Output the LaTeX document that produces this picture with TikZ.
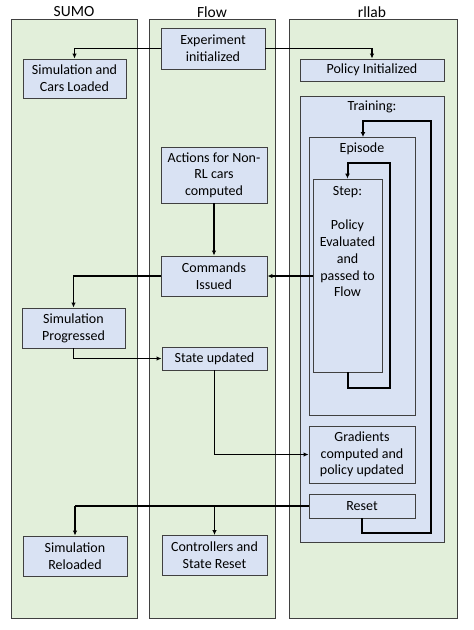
\documentclass[tikz,border=0pt]{standalone}
\usepackage{fontspec}
\setmainfont{Carlito}
\usetikzlibrary{arrows.meta}
\definecolor{lanefill}{HTML}{E2EFDA}
\definecolor{boxfill}{HTML}{D9E2F3}
\definecolor{edge}{HTML}{404040}
\tikzset{
  lane/.style={draw=edge, line width=0.8pt, fill=lanefill},
  box/.style={draw=edge, line width=0.9pt, fill=boxfill, inner sep=0pt, align=center,
    font=\fontsize{14}{16.7}\selectfont},
  frame/.style={draw=edge, line width=0.9pt, fill=boxfill},
  lbl/.style={font=\fontsize{14}{16.7}\selectfont, align=center, inner sep=0pt},
  title/.style={font=\fontsize{15.5}{18}\selectfont, inner sep=0pt},
  arr/.style={draw=black, line width=1.4pt, -{Latex[length=5pt,width=4.5pt]}},
  con/.style={draw=black, line width=1.4pt},
  loop/.style={draw=black, line width=2pt, -{Latex[length=5pt,width=5pt]}}
}
\begin{document}
\begin{tikzpicture}[x=1pt,y=-1pt]
\useasboundingbox[fill=white] (0,0) rectangle (474,630);
% lanes
\path[lane] (11,19) rectangle (137,618);
\path[lane] (149,19) rectangle (275,618);
\path[lane] (289,19) rectangle (457,618);
\node[title] (tsumo) at (74,12) {SUMO};
\node[title] (tflow) at (212,12) {Flow};
\node[title] (trllab) at (372,12) {rllab};
% rllab frames
\path[frame] (300,96) rectangle (444,542);
\node[lbl] (ttrain) at (372,107) {Training:};
\path[frame] (309,137) rectangle (415,415);
\coordinate (epitop) at (363,137);
\node[lbl] (tepi) at (362,149) {Episode};
\node[box, minimum width=69pt, minimum height=193pt] (step) at (347.5,275.5) {};
\node[lbl] (tstep) at (347.5,192) {Step:};
\node[lbl] (tpol) at (347.5,258.5) {Policy\\Evaluated\\and\\passed to\\Flow};
% boxes
\node[box, minimum width=104pt, minimum height=41pt] (exp) at (213,48.5) {Experiment\\initialized};
\node[box, minimum width=103pt, minimum height=39pt] (simload) at (74.5,78.5) {Simulation and\\Cars Loaded};
\node[box, minimum width=144pt, minimum height=22pt] (polinit) at (372,70) {Policy Initialized};
\node[box, minimum width=106pt, minimum height=57pt] (grad) at (362,454.5) {Gradients\\computed and\\policy updated};
\node[box, minimum width=106pt, minimum height=24pt] (reset) at (362,506) {Reset};
\node[box, minimum width=106pt, minimum height=56pt] (actions) at (214,175) {Actions for Non-\\RL cars\\computed};
\node[box, minimum width=106pt, minimum height=40pt] (commands) at (214,276) {Commands\\Issued};
\node[box, minimum width=103pt, minimum height=40pt] (simprog) at (73.5,328) {Simulation\\Progressed};
\node[box, minimum width=105pt, minimum height=23pt] (state) at (214.5,358.5) {State updated};
\node[box, minimum width=104pt, minimum height=40pt] (simrel) at (75,556) {Simulation\\Reloaded};
\node[box, minimum width=105pt, minimum height=40pt] (ctrl) at (214.5,555.5) {Controllers and\\State Reset};
% connectors
\draw[arr] (exp.west) -| (simload.north);
\draw[arr] (exp.east) -| (polinit.north);
\draw[arr] (actions.south) -- (commands.north);
\draw[arr] (commands.east -| step.west) -- (commands.east);
\draw[arr] (commands.west) -| (simprog.north);
\draw[arr] (simprog.south) |- (state.west);
\draw[arr] (state.south) |- (grad.west);
\draw[con] (reset.west) -- (simrel.north |- reset.west);
\draw[arr] (simrel.north |- reset.west) -- (simrel.north);
\draw[arr] (ctrl.north |- reset.west) -- (ctrl.north);
% loops
\coordinate (tl1) at (362,533);
\coordinate (tl2) at (431,533);
\coordinate (tl3) at (431,121);
\coordinate (tl4) at (363,121);
\draw[loop] (reset.south -| tl1) -- (tl1) -- (tl2) -- (tl3) -- (tl4) -- (epitop);
\coordinate (el1) at (348,388);
\coordinate (el2) at (390,388);
\coordinate (el3) at (390,163);
\coordinate (el4) at (347.5,163);
\draw[loop] (step.south -| el1) -- (el1) -- (el2) -- (el3) -- (el4) -- (step.north);
\end{tikzpicture}
\end{document}
